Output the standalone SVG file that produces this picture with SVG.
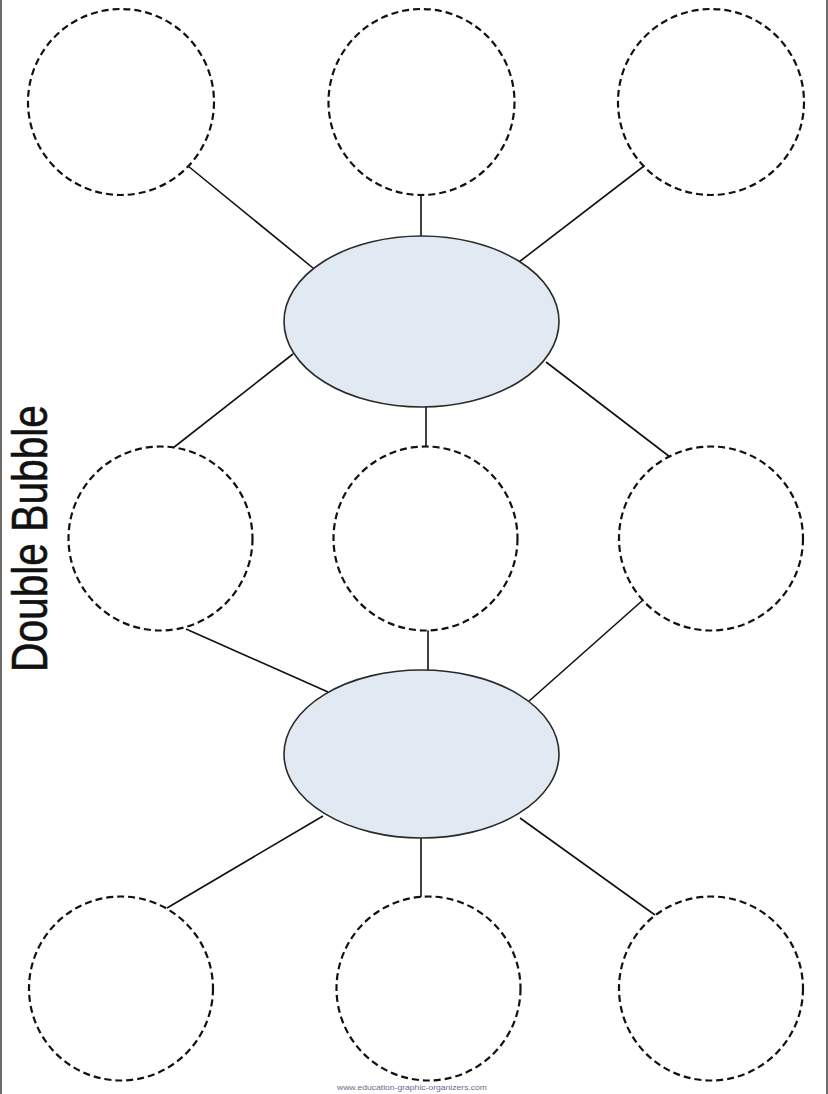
<svg xmlns="http://www.w3.org/2000/svg" width="828" height="1094" viewBox="0 0 828 1094">
<style>
.bubble{fill:#ffffff;stroke:#111111;stroke-width:2.2;stroke-dasharray:7 4}
.main{fill:#e1e9f3;stroke:#2a2a2a;stroke-width:1.6}
.conn{stroke:#111111;stroke-width:1.6;fill:none}
.frame{stroke:#6b6b6b;stroke-width:2}
.title{font-family:"Liberation Sans","DejaVu Sans",sans-serif;font-size:50px;fill:#111111;stroke:#111111;stroke-width:0.6}
.foot{font-family:"Liberation Sans",sans-serif;font-size:7px;fill:#6a6a8a}
</style>
<rect x="0" y="0" width="828" height="1094" fill="#ffffff"/>
<line class="frame" x1="1" y1="0" x2="1" y2="1094"/>
<line class="frame" x1="827" y1="0" x2="827" y2="1094"/>
<g id="connectors">
<line class="conn" x1="188" y1="166" x2="313" y2="268"/>
<line class="conn" x1="421" y1="194" x2="421" y2="237"/>
<line class="conn" x1="644" y1="166" x2="519" y2="262"/>
<line class="conn" x1="293" y1="354" x2="173" y2="448"/>
<line class="conn" x1="426" y1="407" x2="426" y2="447"/>
<line class="conn" x1="546" y1="362" x2="670" y2="457"/>
<line class="conn" x1="186" y1="629" x2="328" y2="692"/>
<line class="conn" x1="428" y1="630" x2="428" y2="671"/>
<line class="conn" x1="643" y1="600" x2="528" y2="702"/>
<line class="conn" x1="323" y1="816" x2="167" y2="908"/>
<line class="conn" x1="421" y1="838" x2="421" y2="897"/>
<line class="conn" x1="520" y1="818" x2="655" y2="915"/>
</g>
<g id="main-top"><ellipse class="main" cx="421.5" cy="321.5" rx="137.5" ry="85.5"/></g>
<g id="main-bottom"><ellipse class="main" cx="421.5" cy="754" rx="137.5" ry="84"/></g>
<g id="bubble-t1"><circle class="bubble" cx="121" cy="102" r="93"/></g>
<g id="bubble-t2"><circle class="bubble" cx="421.5" cy="102" r="93"/></g>
<g id="bubble-t3"><circle class="bubble" cx="711" cy="102" r="93"/></g>
<g id="bubble-m1"><circle class="bubble" cx="160.5" cy="538.5" r="92"/></g>
<g id="bubble-m2"><circle class="bubble" cx="425.5" cy="538.5" r="92"/></g>
<g id="bubble-m3"><circle class="bubble" cx="711" cy="538.5" r="92"/></g>
<g id="bubble-b1"><circle class="bubble" cx="121" cy="988.5" r="92"/></g>
<g id="bubble-b2"><circle class="bubble" cx="428.5" cy="988.5" r="92"/></g>
<g id="bubble-b3"><circle class="bubble" cx="711" cy="988.5" r="92"/></g>
<g id="title"><text class="title" transform="translate(47,672) rotate(-90)" x="0" y="0" textLength="267" lengthAdjust="spacingAndGlyphs">Double Bubble</text></g>
<g id="footer"><text class="foot" x="337" y="1090" textLength="150" lengthAdjust="spacingAndGlyphs">www.education-graphic-organizers.com</text></g>
</svg>
